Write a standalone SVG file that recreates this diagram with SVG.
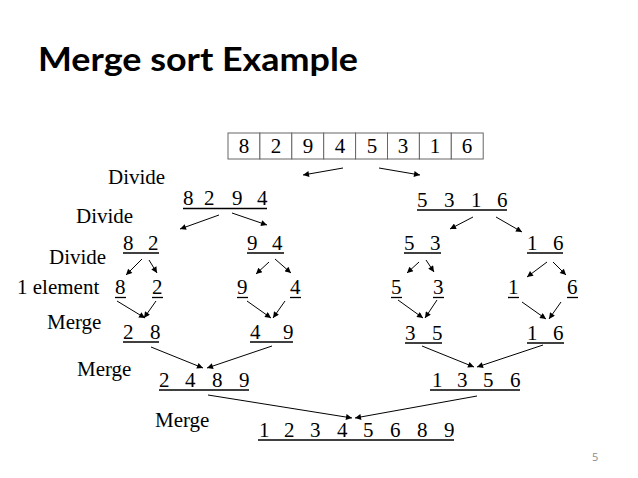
<svg xmlns="http://www.w3.org/2000/svg" width="638" height="478" viewBox="0 0 638 478">
<style>
.t{font-family:"Liberation Serif","Times New Roman",serif;font-size:21px;fill:#000}
.title{font-family:Lato,"Open Sans",sans-serif;font-weight:bold;font-size:33px;fill:#000}
.ul{stroke:#000;stroke-width:1.3;fill:none}
.cell{fill:#fff;stroke:#666;stroke-width:1}
.arr{stroke:#000;stroke-width:1;fill:none;marker-end:url(#ah)}
.pg{font-family:"Open Sans",Lato,sans-serif;font-size:11px;fill:#8c8c8c}
</style>
<defs>
<marker id="ah" viewBox="0 0 10 10" refX="10" refY="5" markerWidth="7" markerHeight="6" orient="auto" markerUnits="userSpaceOnUse">
<path d="M0,0 L10,5 L0,10 z" fill="#000"/>
</marker>
</defs>
<rect width="638" height="478" fill="#fff"/>
<text class="title" x="38" y="71" textLength="320" lengthAdjust="spacingAndGlyphs">Merge sort Example</text>

<g id="array">
<rect class="cell" x="228" y="133" width="31.9" height="26"/>
<rect class="cell" x="259.9" y="133" width="31.9" height="26"/>
<rect class="cell" x="291.8" y="133" width="31.9" height="26"/>
<rect class="cell" x="323.7" y="133" width="31.9" height="26"/>
<rect class="cell" x="355.6" y="133" width="31.9" height="26"/>
<rect class="cell" x="387.5" y="133" width="31.9" height="26"/>
<rect class="cell" x="419.4" y="133" width="31.9" height="26"/>
<rect class="cell" x="451.3" y="133" width="31.9" height="26"/>
<text class="t" y="153" text-anchor="middle"><tspan x="244">8</tspan><tspan x="276">2</tspan><tspan x="308">9</tspan><tspan x="340">4</tspan><tspan x="372">5</tspan><tspan x="403">3</tspan><tspan x="435">1</tspan><tspan x="467">6</tspan></text>
</g>

<g id="labels">
<text class="t" x="108" y="184">Divide</text>
<text class="t" x="76" y="223">Divide</text>
<text class="t" x="49" y="264">Divide</text>
<text class="t" x="17" y="294">1 element</text>
<text class="t" x="47" y="329">Merge</text>
<text class="t" x="77" y="376">Merge</text>
<text class="t" x="155" y="427">Merge</text>
</g>

<g id="n8294"><text class="t" y="205" x="183 194 204 220 232 246 257">8 2 9 4</text><line class="ul" x1="183" y1="208.5" x2="267" y2="208.5"/></g>
<g id="n5316"><text class="t" y="207" x="417 430 444 458 471 485 497">5 3 1 6</text><line class="ul" x1="417" y1="210" x2="507" y2="210"/></g>

<g id="n82"><text class="t" y="250" x="123 136 148">8 2</text><line class="ul" x1="123" y1="253" x2="159" y2="253"/></g>
<g id="n94"><text class="t" y="250" x="247 260 272">9 4</text><line class="ul" x1="247" y1="253" x2="284" y2="253"/></g>
<g id="n53"><text class="t" y="250" x="404 417 430">5 3</text><line class="ul" x1="404" y1="253" x2="441" y2="253"/></g>
<g id="n16a"><text class="t" y="250" x="527 540 553">1 6</text><line class="ul" x1="527" y1="253" x2="563" y2="253"/></g>

<g id="s8"><text class="t" x="115" y="294">8</text><line class="ul" x1="115" y1="297.5" x2="126" y2="297.5"/></g>
<g id="s2"><text class="t" x="152" y="294">2</text><line class="ul" x1="152" y1="297.5" x2="163" y2="297.5"/></g>
<g id="s9"><text class="t" x="237" y="294">9</text><line class="ul" x1="237" y1="297.5" x2="248" y2="297.5"/></g>
<g id="s4"><text class="t" x="290" y="294">4</text><line class="ul" x1="290" y1="297.5" x2="301" y2="297.5"/></g>
<g id="s5"><text class="t" x="391" y="294">5</text><line class="ul" x1="391" y1="297.5" x2="402" y2="297.5"/></g>
<g id="s3"><text class="t" x="433" y="294">3</text><line class="ul" x1="433" y1="297.5" x2="444" y2="297.5"/></g>
<g id="s1"><text class="t" x="508" y="294">1</text><line class="ul" x1="508" y1="297.5" x2="519" y2="297.5"/></g>
<g id="s6"><text class="t" x="567" y="294">6</text><line class="ul" x1="567" y1="297.5" x2="578" y2="297.5"/></g>

<g id="n28"><text class="t" y="339" x="123 136 150">2 8</text><line class="ul" x1="123" y1="342" x2="159" y2="342"/></g>
<g id="n49"><text class="t" y="339" x="250 266 283">4 9</text><line class="ul" x1="250" y1="342" x2="293" y2="342"/></g>
<g id="n35"><text class="t" y="340" x="405 418 432">3 5</text><line class="ul" x1="405" y1="343" x2="442" y2="343"/></g>
<g id="n16b"><text class="t" y="340" x="527 540 553">1 6</text><line class="ul" x1="527" y1="343" x2="564" y2="343"/></g>

<g id="n2489"><text class="t" y="387" x="159 172 185 198 212 226 239">2 4 8 9</text><line class="ul" x1="159" y1="390" x2="249" y2="390"/></g>
<g id="n1356"><text class="t" y="387" x="432 444 457 470 483 496 510">1 3 5 6</text><line class="ul" x1="430" y1="390" x2="520" y2="390"/></g>

<g id="nfinal"><text class="t" y="437" x="259 271 284 297 310 323 337 350 363 376 390 403 417 430 444">1 2 3 4 5 6 8 9</text><line class="ul" x1="258" y1="440" x2="454" y2="440"/></g>

<g id="connectors">
<line class="arr" x1="343" y1="168" x2="303" y2="175"/>
<line class="arr" x1="379" y1="168" x2="420" y2="175"/>
<line class="arr" x1="219" y1="215" x2="180" y2="229"/>
<line class="arr" x1="232" y1="213" x2="267" y2="225"/>
<line class="arr" x1="473" y1="217" x2="450" y2="229"/>
<line class="arr" x1="496" y1="217" x2="522" y2="232"/>
<line class="arr" x1="142" y1="259" x2="126" y2="275"/>
<line class="arr" x1="149" y1="260" x2="157" y2="273"/>
<line class="arr" x1="269" y1="262" x2="256" y2="274"/>
<line class="arr" x1="275" y1="259" x2="291" y2="273"/>
<line class="arr" x1="419" y1="262" x2="407" y2="273"/>
<line class="arr" x1="426" y1="260" x2="434" y2="272"/>
<line class="arr" x1="547" y1="262" x2="527" y2="277"/>
<line class="arr" x1="553" y1="262" x2="566" y2="275"/>
<line class="arr" x1="117" y1="301" x2="145" y2="318"/>
<line class="arr" x1="156" y1="301" x2="144" y2="318"/>
<line class="arr" x1="247" y1="301" x2="271" y2="318"/>
<line class="arr" x1="285" y1="301" x2="273" y2="318"/>
<line class="arr" x1="398" y1="300" x2="423" y2="318"/>
<line class="arr" x1="437" y1="300" x2="425" y2="318"/>
<line class="arr" x1="522" y1="302" x2="546" y2="319"/>
<line class="arr" x1="561" y1="302" x2="549" y2="319"/>
<line class="arr" x1="151" y1="347" x2="203" y2="368"/>
<line class="arr" x1="272" y1="346" x2="207" y2="368"/>
<line class="arr" x1="422" y1="346" x2="474" y2="367"/>
<line class="arr" x1="543" y1="345" x2="477" y2="367"/>
<line class="arr" x1="208" y1="395" x2="352" y2="418"/>
<line class="arr" x1="477" y1="396" x2="355" y2="418"/>
</g>

<text class="pg" x="592" y="461">5</text>
</svg>
